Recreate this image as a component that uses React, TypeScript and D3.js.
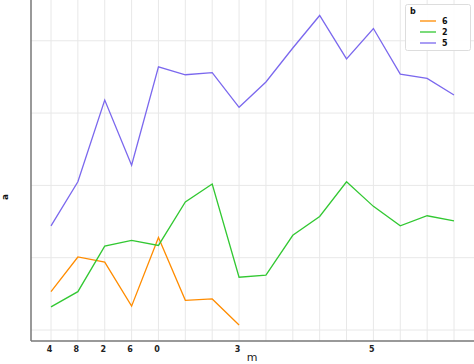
import React from "react";
import * as d3 from "d3";

const categories = ["c0","c1","c2","c3","c4","c5","c6","c7","c8","c9","c10","c11","c12","c13","c14","c15"];
const tickLabels = ["4","8","2","6","0","","","3","","","","","5","","",""];
const seriesNames = ["6", "2", "5"];
const seriesColors = ["#ff8c00", "#32c832", "#7b68ee"];
const series6 = [5.3, 10.1, 9.4, 3.3, 12.8, 4.1, 4.3, 0.7];
const series2 = [3.2, 5.3, 11.6, 12.4, 11.7, 17.7, 20.2, 7.3, 7.6, 13.1, 15.7, 20.5, 17.1, 14.4, 15.8, 15.1];
const series5 = [14.4, 20.5, 31.8, 22.8, 36.4, 35.3, 35.6, 30.8, 34.3, 39.0, 43.5, 37.5, 41.7, 35.4, 34.8, 32.5];
const yGrid = [0, 10, 20, 30, 40];

export default function App() {
  const W = 474, H = 364;
  const left = 31, bottom = 341;
  const x = d3.scalePoint<string>().domain(categories).range([51, 454]);
  const y = d3.scaleLinear().domain([-1.52, 45.64]).range([bottom, 0]);
  const data = [series6, series2, series5];
  const line = d3.line<number>().x((_, i) => x(categories[i]) as number).y((v) => y(v));
  const font = "'DejaVu Sans', sans-serif";
  return (
    <svg width={W} height={H} style={{ position: "absolute", left: 0, top: 0, background: "#fff" }}>
      {yGrid.map((g) => (
        <line key={"h" + g} x1={left} x2={W} y1={y(g)} y2={y(g)} stroke="#e8e8e8" strokeWidth={1} />
      ))}
      {categories.map((c) => (
        <line key={"v" + c} x1={x(c)} x2={x(c)} y1={0} y2={bottom} stroke="#e8e8e8" strokeWidth={1} />
      ))}
      {data.map((d, i) => (
        <path key={i} d={line(d) || ""} fill="none" stroke={seriesColors[i]} strokeWidth={1.3} />
      ))}
      <line x1={left} x2={left} y1={0} y2={bottom} stroke="#777" strokeWidth={1.5} />
      <line x1={left} x2={W} y1={bottom} y2={bottom} stroke="#777" strokeWidth={1.5} />
      {categories.map((c, i) =>
        tickLabels[i] ? (
          <text key={"t" + c} x={(x(c) as number) - 1.5} y={352} fontSize={8} fontWeight="bold" fontFamily={font} textAnchor="middle" fill="#222">
            {tickLabels[i]}
          </text>
        ) : null
      )}
      <text x={252} y={361} fontSize={11} fontFamily={font} textAnchor="middle" fill="#222">m</text>
      <text x={0} y={0} fontSize={9} fontWeight="bold" fontFamily={font} textAnchor="middle" fill="#111" transform="translate(8,197) rotate(-90)">a</text>
      <g>
        <rect x={405.5} y={4.5} width={65} height={46} rx={2} fill="#fff" fillOpacity={0.9} stroke="#ddd" strokeWidth={1} />
        <text x={410} y={14} fontSize={8} fontWeight="bold" fontFamily={font} fill="#111">b</text>
        {seriesNames.map((n, i) => (
          <g key={n}>
            <line x1={420} x2={436} y1={21 + i * 11} y2={21 + i * 11} stroke={seriesColors[i]} strokeWidth={1.3} />
            <text x={442} y={24 + i * 11} fontSize={8} fontWeight="bold" fontFamily={font} fill="#111">{n}</text>
          </g>
        ))}
      </g>
    </svg>
  );
}
